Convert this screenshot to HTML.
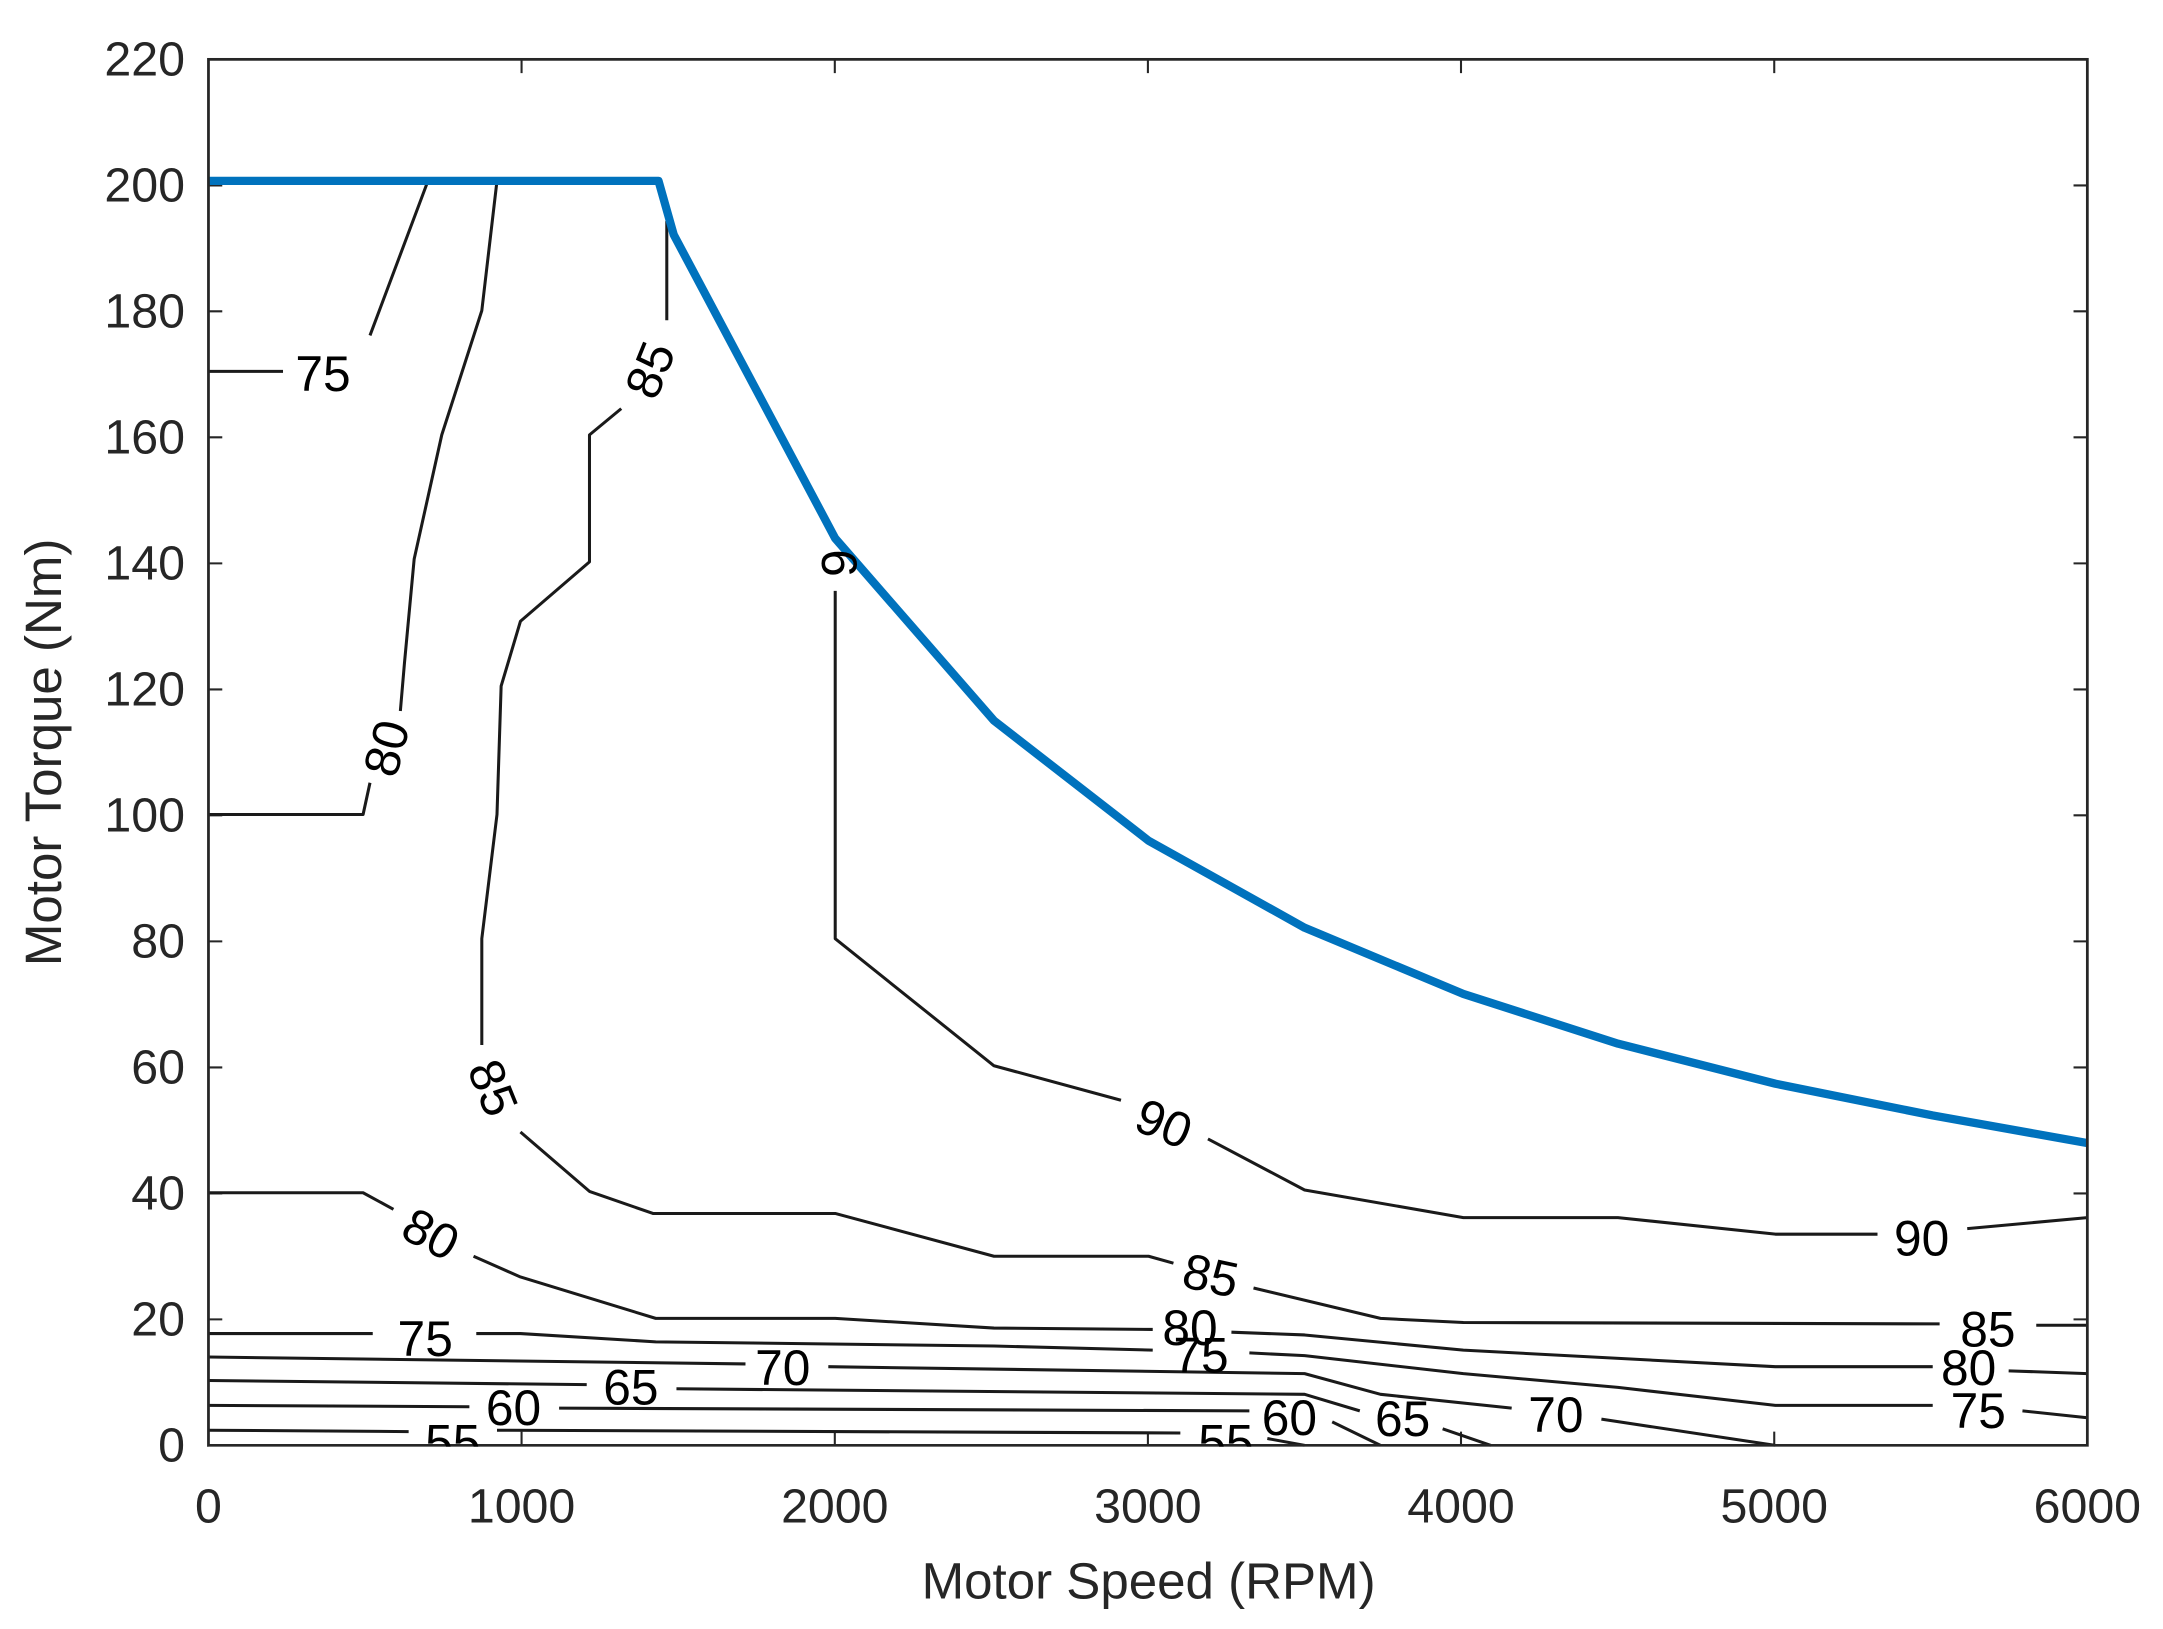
<!DOCTYPE html>
<html><head><style>
html,body{margin:0;padding:0;background:#fff;}
svg{display:block;}
text{font-family:"Liberation Sans",sans-serif;}
</style></head><body>
<svg width="2163" height="1629" viewBox="0 0 1566.8 1180" xmlns="http://www.w3.org/2000/svg">
<rect x="0" y="0" width="1566.8" height="1180" fill="#fff"/>
<g fill="none" stroke="#262626" stroke-width="1.5">
<path d="M151 1047h10M151 955.7h10M151 864.5h10M151 773.2h10M151 681.9h10M151 590.6h10M151 499.4h10M151 408.1h10M151 316.8h10M151 225.5h10M151 134.3h10M151 43h10
M1512 1047h-10M1512 955.7h-10M1512 864.5h-10M1512 773.2h-10M1512 681.9h-10M1512 590.6h-10M1512 499.4h-10M1512 408.1h-10M1512 316.8h-10M1512 225.5h-10M1512 134.3h-10
M377.8 1047v-10M604.7 1047v-10M831.5 1047v-10M1058.3 1047v-10M1285.2 1047v-10
M377.8 43v10M604.7 43v10M831.5 43v10M1058.3 43v10M1285.2 43v10"/>
</g>
<g fill="none" stroke="#1a1a1a" stroke-width="2.2" stroke-linejoin="round">
<path d="M151 269H205M268 243L310 131"/>
<path d="M151 590H263L268 567M290 515L293 480L300 405L320 315L349 225L360 131"/>
<path d="M349 757L349 680L360 590L363 497L377 450L427 407L427 315L450 296M483 232L483 160"/>
<path d="M377 820L427 863L473 879L605 879L720 910L832 910L850 915M908 933L1000 955L1060 958L1405 959M1475 960L1512 960"/>
<path d="M605 428L605 680L720 772L812 797M875 825L945 862L1060 882L1172 882L1286 894L1360 894M1425 890L1512 882"/>
<path d="M151 864L263 864L285 876M343 910L377 925L475 955L605 955L720 962L835 963M892 965L945 967L1060 978L1286 990L1400 990M1455 993L1512 995"/>
<path d="M151 966L270 966M345 966L377 966L475 972L720 975L835 978M905 980L945 982L1060 995L1172 1005L1286 1018L1400 1018M1465 1022L1512 1027"/>
<path d="M151 983L540 988M600 990L945 995L1000 1010L1095 1020M1160 1028L1286 1047"/>
<path d="M151 1000L425 1003M490 1006L945 1010L985 1022M1045 1035L1080 1047"/>
<path d="M151 1018L340 1019M405 1020L905 1022M965 1030L1000 1047"/>
<path d="M151 1036L296 1037M360 1036L855 1038M918 1042L945 1047"/>
</g>
<path d="M151 131L477 131L488 170L605 390L720 522L832 609L945 672L1060 720L1172 756L1286 785L1400 808L1512 828" fill="none" stroke="#0072bd" stroke-width="6" stroke-linejoin="round"/>
<rect x="151" y="43" width="1361" height="1004" fill="none" stroke="#262626" stroke-width="2"/>
<g font-size="36" fill="#000" text-anchor="middle" dominant-baseline="central">
<text x="234" y="271" transform="scale(1,1)">75</text>
<text transform="translate(280,542) rotate(-75)">80</text>
<text transform="translate(471,268) rotate(-68)">85</text>
<text transform="translate(608,408) rotate(-90)">9</text>
<text transform="translate(357,788) rotate(68)">85</text>
<text transform="translate(843,814) rotate(22)">90</text>
<text x="1392" y="897">90</text>
<text transform="translate(312,894) rotate(28)">80</text>
<text transform="translate(877,924) rotate(12)">85</text>
<text x="1440" y="963">85</text>
<text x="862" y="962">80</text>
<text x="1426" y="991">80</text>
<text x="308" y="970">75</text>
<text x="870" y="982">75</text>
<text x="1433" y="1022">75</text>
<text x="567" y="991">70</text>
<text x="1127" y="1025">70</text>
<text x="457" y="1005">65</text>
<text x="1016" y="1028">65</text>
<text x="372" y="1020">60</text>
<text x="934" y="1027">60</text>
<text x="328" y="1045">55</text>
<text x="888" y="1045">55</text>
</g>
<rect x="151" y="1048" width="1362" height="22" fill="#fff"/>
<g font-size="35" fill="#262626" text-anchor="end" dominant-baseline="central">
<text x="134" y="1047">0</text><text x="134" y="955.7">20</text><text x="134" y="864.5">40</text>
<text x="134" y="773.2">60</text><text x="134" y="681.9">80</text><text x="134" y="590.6">100</text>
<text x="134" y="499.4">120</text><text x="134" y="408.1">140</text><text x="134" y="316.8">160</text>
<text x="134" y="225.5">180</text><text x="134" y="134.3">200</text><text x="134" y="43">220</text>
</g>
<g font-size="35" fill="#262626" text-anchor="middle">
<text x="151" y="1103">0</text><text x="377.8" y="1103">1000</text><text x="604.7" y="1103">2000</text>
<text x="831.5" y="1103">3000</text><text x="1058.3" y="1103">4000</text><text x="1285.2" y="1103">5000</text>
<text x="1512" y="1103">6000</text>
<text x="832" y="1158" font-size="37">Motor Speed (RPM)</text>
<text transform="translate(44,545) rotate(-90)" font-size="37">Motor Torque (Nm)</text>
</g>
</svg>
</body></html>
